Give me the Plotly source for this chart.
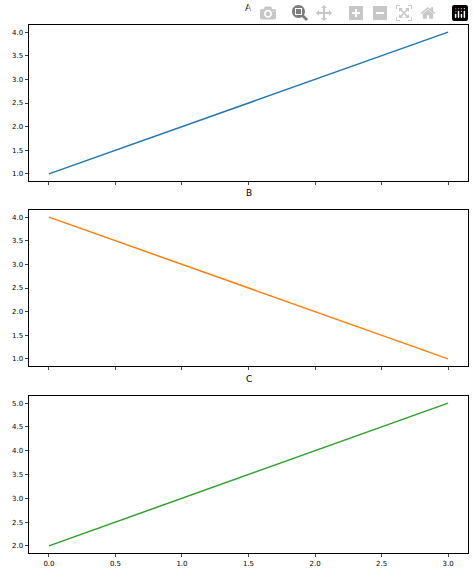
import plotly.graph_objects as go

x = [0, 1, 2, 3]
a_vals = [1, 2, 3, 4]
b_vals = [4, 3, 2, 1]
c_vals = [2, 3, 4, 5]
titles = ["A", "B", "C"]
colors = ["#1f77b4", "#ff7f0e", "#2ca02c"]

H, W = 569, 474
fig = go.Figure()
tops = [25, 210, 396]
bots = [181, 366, 553]
series = [a_vals, b_vals, c_vals]
for i in range(3):
    n = "" if i == 0 else str(i + 1)
    fig.add_trace(go.Scatter(x=x, y=series[i], mode="lines", line=dict(color=colors[i], width=1.5),
                             xaxis="x" + n, yaxis="y" + n, showlegend=False))
    dom = [1 - bots[i] / H, 1 - tops[i] / H]
    lo, hi = min(series[i]), max(series[i])
    pad = (hi - lo) * 0.05
    ax = dict(showline=True, mirror=True, linecolor="black", linewidth=0.8, ticks="outside",
              ticklen=3.5, showgrid=False, zeroline=False, tickfont=dict(size=7, family="DejaVu Sans", color="black"))
    fig.layout["xaxis" + n] = dict(ax, domain=[29 / W, 468 / W], range=[-0.15, 3.15], dtick=0.5,
                                   tickformat=".1f", anchor="y" + n, showticklabels=(i == 2),
                                   **({} if i == 0 else {"matches": "x"}))
    fig.layout["yaxis" + n] = dict(ax, domain=dom, range=[lo - pad, hi + pad], dtick=0.5,
                                   tickformat=".1f", anchor="x" + n)
    fig.add_annotation(text=titles[i], x=0.5 * (29 + 468) / W, xref="paper",
                       y=1 - (tops[i] - 17) / H, yref="paper", yanchor="middle", showarrow=False,
                       font=dict(size=9, family="DejaVu Sans", color="black"))

fig.update_layout(width=W, height=H, margin=dict(l=0, r=0, t=0, b=0),
                  plot_bgcolor="white", paper_bgcolor="white")
fig.write_html("out.html", post_script="document.body.style.margin='0';")
